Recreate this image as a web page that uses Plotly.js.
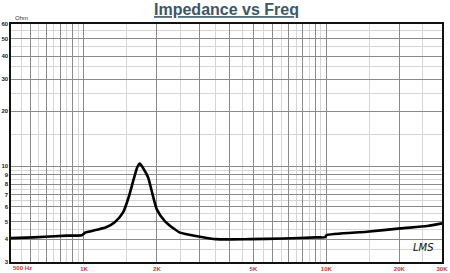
<!DOCTYPE html>
<html>
<head>
<meta charset="utf-8">
<script src="https://cdn.plot.ly/plotly-3.0.1.min.js"></script>
<style>html,body{margin:0;padding:0;background:#fff;}#chart{width:450px;height:273px;}</style>
</head>
<body>
<div id="chart"></div>
<script>
// Frequency (Hz) and impedance (Ohm)
const freq = [500, 620, 850, 980, 1000, 1010, 1130, 1240, 1340, 1450, 1530, 1600, 1660, 1700, 1760, 1840, 1900, 2000, 2160, 2340, 2490, 3000, 3500, 4850, 6650, 9100, 9900, 10000, 14700, 20200, 26100, 30000];
const impedance = [4.05, 4.09, 4.18, 4.2, 4.28, 4.34, 4.5, 4.66, 4.95, 5.6, 6.8, 8.4, 9.9, 10.35, 9.7, 8.7, 7.4, 5.8, 5.0, 4.58, 4.34, 4.13, 4.0, 4.0, 4.03, 4.09, 4.1, 4.2, 4.39, 4.58, 4.72, 4.88];

const xMajor = [500, 600, 700, 800, 900, 1000, 2000, 3000, 4000, 5000, 6000, 7000, 8000, 9000, 10000, 20000, 30000];
const xMajorText = ["", "", "", "", "", "1K", "2K", "", "", "5K", "", "", "", "", "10K", "20K", "30K"];
const xFirstLabel = "500 Hz";
const xMinor = [550, 650, 750, 850, 950, 1500, 2500, 3500, 4500, 5500, 6500, 7500, 8500, 9500, 15000, 25000];
const yMajor = [3, 4, 5, 6, 7, 8, 9, 10, 20, 30, 40, 50, 60];
const yMajorText = ["3", "4", "5", "6", "7", "8", "9", "10", "20", "30", "40", "50", "60"];
const yMinor = [3.5, 4.5, 5.5, 6.5, 7.5, 8.5, 9.5, 15, 25, 35, 45, 55];

const trace = {
  x: freq, y: impedance, type: 'scatter', mode: 'lines',
  line: {color: '#000', width: 2.6, shape: 'spline', smoothing: 0.6},
  hoverinfo: 'none'
};

const tickFontX = {family: 'Liberation Sans, Arial, sans-serif', size: 6, color: '#b83a3a', weight: 'bold'};

const layout = {
  width: 450, height: 273,
  margin: {l: 11, r: 8, t: 24, b: 11},
  paper_bgcolor: '#fff', plot_bgcolor: '#fff',
  showlegend: false,
  title: {
    text: '<b><u>Impedance vs Freq</u></b>',
    font: {family: 'Liberation Sans, Arial, sans-serif', size: 16, color: '#3d5766'},
    x: 0.5, xref: 'paper', xanchor: 'center', y: 0.965, yref: 'container', yanchor: 'middle'
  },
  xaxis: {
    type: 'log', range: [Math.log10(500), Math.log10(30000)],
    tickmode: 'array', tickvals: xMajor, ticktext: xMajorText,
    tickfont: tickFontX,
    ticks: '', ticklen: 0,
    showgrid: true, gridcolor: '#8a8a8a', gridwidth: 1,
    minor: {tickmode: 'array', tickvals: xMinor, showgrid: true, gridcolor: '#d6d6d6', gridwidth: 1, ticks: ''},
    showline: true, linecolor: '#111', linewidth: 1.6, mirror: true,
    zeroline: false, fixedrange: true
  },
  yaxis: {
    type: 'log', range: [Math.log10(3), Math.log10(60)],
    tickmode: 'array', tickvals: yMajor, ticktext: yMajorText,
    tickfont: {family: 'Liberation Sans, Arial, sans-serif', size: 6, color: '#222', weight: 'bold'},
    ticks: '', ticklen: 0,
    showgrid: true, gridcolor: '#8a8a8a', gridwidth: 1,
    minor: {tickmode: 'array', tickvals: yMinor, showgrid: true, gridcolor: '#d6d6d6', gridwidth: 1, ticks: ''},
    showline: true, linecolor: '#111', linewidth: 1.6, mirror: true,
    zeroline: false, fixedrange: true
  },
  annotations: [
    {text: xFirstLabel, xref: 'x', yref: 'paper', x: Math.log10(xMajor[0]), y: 0, xanchor: 'left', yanchor: 'top',
     yshift: -1, showarrow: false, font: tickFontX},
    {text: 'Ohm', xref: 'paper', yref: 'paper', x: 0.005, y: 1.005, xanchor: 'left', yanchor: 'bottom',
     showarrow: false, font: {family: 'Liberation Sans, Arial, sans-serif', size: 6, color: '#333'}},
    {text: 'LMS', xref: 'paper', yref: 'paper', x: 0.985, y: 0.03, xanchor: 'right', yanchor: 'bottom',
     showarrow: false, font: {family: 'DejaVu Sans, sans-serif', size: 10, color: '#111', style: 'italic'}}
  ]
};

Plotly.newPlot('chart', [trace], layout, {staticPlot: true, displayModeBar: false});
</script>
</body>
</html>
